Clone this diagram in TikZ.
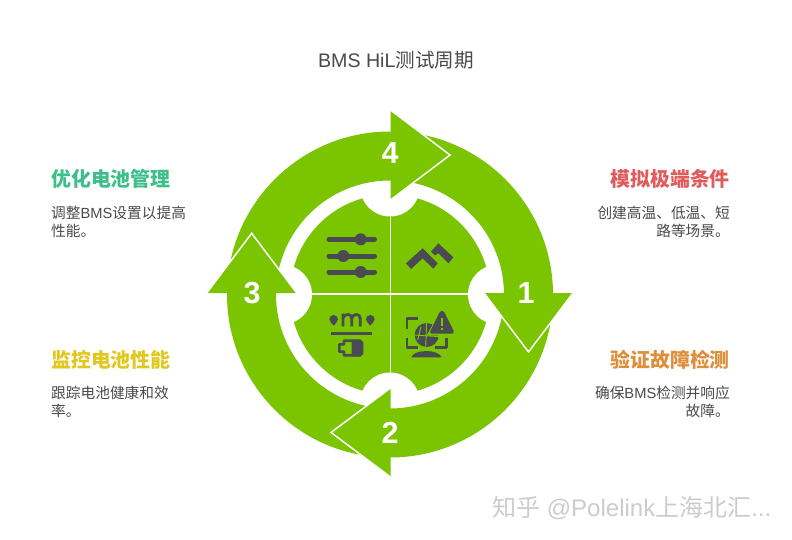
\documentclass[tikz,border=0pt]{standalone}
\usepackage{fontspec}
\setmainfont{Liberation Sans}
\newfontfamily\cjk{Noto Sans CJK SC}
\definecolor{leaf}{HTML}{7AC400}
\definecolor{ink}{HTML}{4A4A52}
\definecolor{txt}{HTML}{4A4A4A}
\definecolor{hteal}{HTML}{3DBE8B}
\definecolor{hred}{HTML}{E05B5B}
\definecolor{hyellow}{HTML}{E2C71F}
\definecolor{horange}{HTML}{DE8F3B}
\tikzset{
  x=1pt,y=-1pt,
  headtxt/.style={font=\cjk\bfseries\fontsize{19.9}{22}\selectfont,inner sep=0pt},
  bodyL/.style={font=\fontsize{14.7}{18.5}\selectfont,inner sep=0pt,text=txt,align=left,text width=145pt,anchor=north west},
  bodyR/.style={font=\fontsize{14.7}{18.5}\selectfont,inner sep=0pt,text=txt,align=right,text width=145pt,anchor=north east},
  num/.style={font=\bfseries\fontsize{30.5}{31}\selectfont,text=white,inner sep=0pt},
  headfill/.style={fill=leaf,draw=none},
  vline/.style={draw=white,line width=1.5pt,line join=miter},
  iconline/.style={draw=ink,line cap=round},
}
\begin{document}
\begin{tikzpicture}
\useasboundingbox (0,0) rectangle (792,540);
\fill[white] (0,0) rectangle (792,540);
% inner disc and notches
\fill[leaf] (390,294.5) circle[radius=100];
\foreach \px/\py in {390/186.5,498/294.5,390/402.5,282/294.5}
  \fill[white] (\px,\py) circle[radius=30];
\draw[white,line width=1.5pt] (390.5,195) -- (390.5,394) (290,294) -- (490,294);
% ring
\fill[leaf,even odd rule] (390,294.5) circle[radius=163] (390,294.5) circle[radius=114];
% heads
\coordinate (a1) at (484,293); \coordinate (t1) at (528.5,352); \coordinate (b1) at (573,293);
\coordinate (a2) at (390.5,388); \coordinate (t2) at (331,432.5); \coordinate (b2) at (390.5,477);
\coordinate (a3) at (296.7,293); \coordinate (t3) at (251.7,233.3); \coordinate (b3) at (206.7,293);
\coordinate (a4) at (390.5,110); \coordinate (t4) at (450,155); \coordinate (b4) at (390.5,200);
\foreach \k in {1,2,3,4}{
  \fill[headfill] (a\k) -- (t\k) -- (b\k) -- cycle;
  \draw[vline] (a\k) -- (t\k) -- (b\k);
}
\node[num] (n1) at (526,293) {1};
\node[num] (n2) at (390,433) {2};
\node[num] (n3) at (252,293) {3};
\node[num] (n4) at (390,153) {4};
% title
\node[inner sep=0pt,text=txt,font=\fontsize{19.6}{21}\selectfont] (title) at (396,60) {BMS HiL{\cjk 测试周期}};
% left text
\node[headtxt,text=hteal,anchor=west] (h4) at (51,179) {优化电池管理};
\node[bodyL] (b4t) at (51,205.5) {{\cjk 调整}BMS{\cjk 设置以提高}\\{\cjk 性能。}};
\node[headtxt,text=hyellow,anchor=west] (h3) at (51,360) {监控电池性能};
\node[bodyL] (b3t) at (51,385.5) {{\cjk 跟踪电池健康和效}\\{\cjk 率。}};
% right text
\node[headtxt,text=hred,anchor=east] (h1) at (730,179) {模拟极端条件};
\node[bodyR] (b1t) at (730,205.5) {{\cjk 创建高温、低温、短}\\{\cjk 路等场景。}};
\node[headtxt,text=horange,anchor=east] (h2) at (730,360) {验证故障检测};
\node[bodyR] (b2t) at (730,385.5) {{\cjk 确保}BMS{\cjk 检测并响应}\\{\cjk 故障。}};
% watermark
\node[inner sep=0pt,anchor=west,text=black!20,font=\fontsize{24}{26}\selectfont] (wm) at (492,508) {{\cjk 知乎} @Polelink{\cjk 上海北汇}...};
% sliders icon
\draw[iconline,line width=5pt] (329,239.3) -- (374.5,239.3) (329,256) -- (374.5,256) (329,272) -- (374.5,272);
\fill[ink] (360.7,239.3) circle[radius=6] (343.3,256) circle[radius=6] (360.7,272) circle[radius=6];
% chevrons icon
\begin{scope}[shift={(385,120)},x=0.3333pt,y=-0.3333pt]
\fill[ink] (63,430) -- (113,385) -- (158,430) -- (145,446) -- (113,415) -- (78,447) -- cycle;
\fill[ink] (138,395) -- (160,370) -- (205,412) -- (190,430) -- (160,400) -- (150,406) -- cycle;
\end{scope}
% battery icon
\begin{scope}[shift={(200,295)},x=0.3333pt,y=-0.3333pt]
\fill[ink] (388,73) .. controls (388,56) and (414,56) .. (414,73) .. controls (414,80) and (406,85) .. (401,92) .. controls (396,85) and (388,80) .. (388,73) -- cycle;
\fill[ink] (498,73) .. controls (498,56) and (524,56) .. (524,73) .. controls (524,80) and (516,85) .. (511,92) .. controls (506,85) and (498,80) .. (498,73) -- cycle;
\draw[ink,line width=2.8pt] (429,94) -- (429,56) (429,68) .. controls (435,55) and (455,55) .. (455,70) -- (455,94) (455,70) .. controls (458,55) and (481,55) .. (481,70) -- (481,94);
\draw[ink,line width=2.7pt] (394,115) -- (516,115);
\draw[ink,line width=2.6pt,line join=round] (432,137) -- (480,137) -- (486,143) -- (486,175) -- (480,181) -- (432,181) -- (432,170) -- (418,170) -- (418,148) -- (432,148) -- cycle;
\fill[ink] (455,135) -- (480,135) -- (489,143) -- (489,176) -- (480,184) -- (455,184) -- cycle;
\end{scope}
% globe icon
\begin{scope}[shift={(385,295)},x=0.3333pt,y=-0.3333pt]
\draw[ink,line width=2.8pt,line cap=butt,line join=round] (98,71) -- (66,71) -- (66,103) (66,128) -- (66,158) -- (98,158) (150,158) -- (184,158) -- (184,128);
\fill[ink] (125,120) circle[radius=36];
\draw[leaf,line width=0.9pt] (125,80) -- (122,160) (85,120) -- (165,125) (108,95) -- (98,135);
\fill[leaf] (170,38) -- (125,122) -- (217,122) -- cycle;
\fill[ink] (171,47) .. controls (174,47) and (176,49) .. (178,52) -- (206,108) .. controls (208,112) and (206,116) .. (202,116) -- (141,116) .. controls (136,116) and (134,112) .. (136,108) -- (164,52) .. controls (166,49) and (168,47) .. (171,47) -- cycle;
\draw[leaf,line width=1.8pt] (171,70) -- (171,92) (171,98) -- (171,105);
\fill[ink] (79,187) .. controls (86,162) and (162,162) .. (169,187) -- cycle;
\end{scope}
\end{tikzpicture}
\end{document}
